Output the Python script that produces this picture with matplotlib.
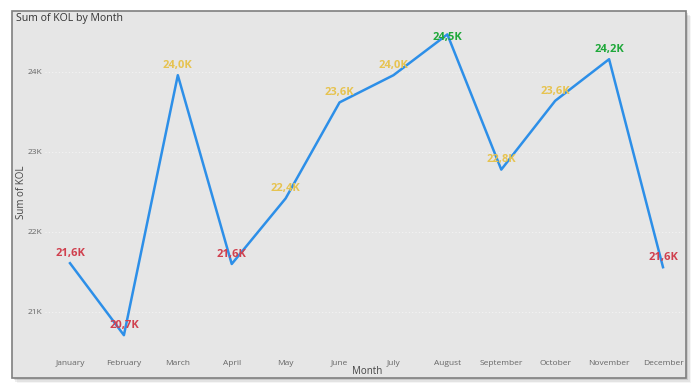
import matplotlib
matplotlib.use('Agg')
import matplotlib.pyplot as plt
from matplotlib.patches import Rectangle

# Data
months = ['January', 'February', 'March', 'April', 'May', 'June',
          'July', 'August', 'September', 'October', 'November', 'December']
kol = [21610, 20710, 23960, 21600, 22420, 23620,
       23960, 24470, 22780, 23640, 24160, 21560]
labels = ['21,6K', '20,7K', '24,0K', '21,6K', '22,4K', '23,6K',
          '24,0K', '24,5K', '22,8K', '23,6K', '24,2K', '21,6K']
yticks = [21000, 22000, 23000, 24000]
ytick_labels = ['21K', '22K', '23K', '24K']

W, H = 700, 392
fig = plt.figure(figsize=(W / 100, H / 100), dpi=100)
fig.patch.set_facecolor('white')

def fx(px):
    return px / W

def fy(py):
    return 1 - py / H

# shadow and card frame
for i, a in enumerate([0.10, 0.07, 0.04]):
    off = 2 + i * 1.5
    fig.patches.append(Rectangle((fx(12 + off), fy(378 + off)), fx(674), 367 / H,
                                 transform=fig.transFigure, facecolor='black',
                                 alpha=a, edgecolor='none', zorder=0))
fig.patches.append(Rectangle((fx(12), fy(378)), fx(674), 367 / H,
                             transform=fig.transFigure, facecolor='#E6E6E6',
                             edgecolor='#7F7F7F', linewidth=1.2, zorder=1))

fig.text(fx(16), fy(18), 'Sum of KOL by Month', fontsize=7.6, color='#333333',
         ha='left', va='center', family='Open Sans')

# axes area
left_px, right_px, top_px, bot_px = 45, 684, 22, 350
ax = fig.add_axes([fx(left_px), fy(bot_px), (right_px - left_px) / W, (bot_px - top_px) / H])
ax.set_facecolor('none')
ax.set_zorder(2)

x = list(range(len(months)))
step = (663 - 70) / 11
ax.set_xlim(-(70 - left_px) / step, 11 + (right_px - 663) / step)
ax.set_ylim(21000 - (bot_px - 312) / 80 * 1000, 24000 + (72 - top_px) / 80 * 1000)

ax.plot(x, kol, color='#2D8FE8', linewidth=1.8, zorder=3)

for xi, v, lab in zip(x, kol, labels):
    if v < 22000:
        c = '#D0404E'
    elif v >= 24100:
        c = '#1FA83A'
    else:
        c = '#E6C350'
    # no room above the peak, so that label sits on the point
    dy = -2 if v > 24400 else 7
    ax.annotate(lab, (xi, v), xytext=(0, dy), textcoords='offset points',
                ha='center', va='center', fontsize=8, fontweight='bold',
                color=c, family='Open Sans', zorder=4)

ax.set_yticks(yticks)
ax.set_yticklabels(ytick_labels)
ax.set_xticks(x)
ax.set_xticklabels(months)
ax.tick_params(axis='both', length=0, labelsize=6, labelcolor='#666666')
ax.tick_params(axis='x', pad=7)
ax.tick_params(axis='y', pad=2)
for t in ax.get_xticklabels() + ax.get_yticklabels():
    t.set_family('Open Sans')

ax.grid(axis='y', color='#F4F4F4', linestyle=(0, (1, 2)), linewidth=0.8)
ax.set_axisbelow(True)
for s in ax.spines.values():
    s.set_visible(False)

fig.text(fx(367), fy(372), 'Month', fontsize=7, color='#444444', ha='center',
         va='center', family='Open Sans')
fig.text(fx(22), fy(192), 'Sum of KOL', fontsize=7, color='#444444', ha='center',
         va='center', rotation=90, family='Open Sans')

fig.savefig('out.png', dpi=100)
